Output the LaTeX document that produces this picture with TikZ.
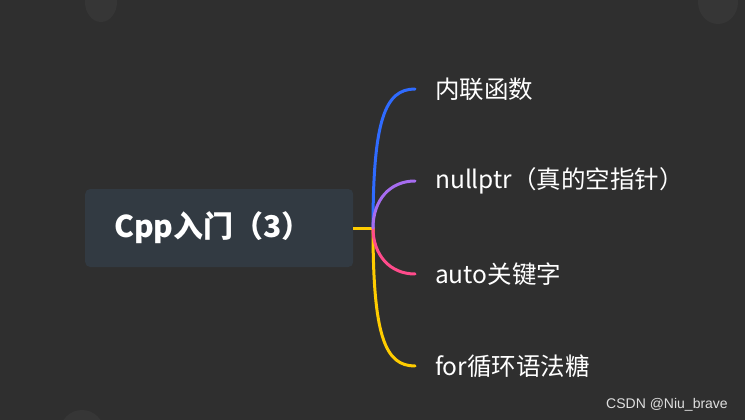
\documentclass[tikz,border=0pt]{standalone}
\usepackage{fontspec}
\setmainfont{Noto Sans CJK SC}
\newfontfamily\wmfont{Liberation Sans}
\definecolor{bgc}{HTML}{2F2F2F}
\definecolor{blobc}{HTML}{363636}
\definecolor{rootc}{HTML}{323A42}
\definecolor{cblue}{HTML}{2F6BFF}
\definecolor{cpurple}{HTML}{A66CF0}
\definecolor{cpink}{HTML}{FF4B8B}
\definecolor{cyellow}{HTML}{FFCC00}
\begin{document}
\begin{tikzpicture}[x=1pt,y=-1pt,
  leaf/.style={anchor=west,text=white,font=\fontsize{24.5}{28}\selectfont,inner sep=0pt},
  branch/.style={line width=3pt,line cap=round}]
\fill[bgc] (0,0) rectangle (745,420);
\useasboundingbox (0,0) rectangle (745,420);
\fill[blobc] (101,2) ellipse (16 and 20);
\fill[blobc] (718,2) ellipse (20 and 22);
\fill[blobc] (82,432) ellipse (22 and 22);
\node[fill=rootc,rounded corners=5pt,minimum width=268pt,minimum height=78pt,anchor=west,inner sep=0pt] (root) at (85,228) {};
\node[anchor=west,text=white,font=\fontsize{30}{34}\selectfont\bfseries,inner sep=0pt] (roott) at (114,228) {Cpp入门（3）};
\coordinate (hub) at (373,228);
\node[leaf] (l1) at (435,89) {内联函数};
\node[leaf] (l2) at (435,181) {nullptr（真的空指针）};
\node[leaf] (l3) at (435,274) {auto关键字};
\node[leaf] (l4) at (435,366) {for循环语法糖};
\coordinate (e1) at (415,89);
\coordinate (e2) at (415,181);
\coordinate (e3) at (415,274);
\coordinate (e4) at (415,366);
\draw[branch,cyellow,line cap=butt] (root.east) -- (hub);
\draw[branch,cblue] (hub) .. controls (373,120) and (385,89) .. (e1);
\draw[branch,cyellow] (hub) .. controls (373,336) and (385,366) .. (e4);
\draw[branch,cpink] (hub) .. controls (373,255) and (390,274) .. (e3);
\draw[branch,cpurple] (hub) .. controls (373,200) and (390,181) .. (e2);
\node[anchor=east,text=white!75!gray,font=\wmfont\fontsize{14}{16}\selectfont,inner sep=0pt] (wm) at (728,405) {CSDN @Niu\_brave};
\end{tikzpicture}
\end{document}
